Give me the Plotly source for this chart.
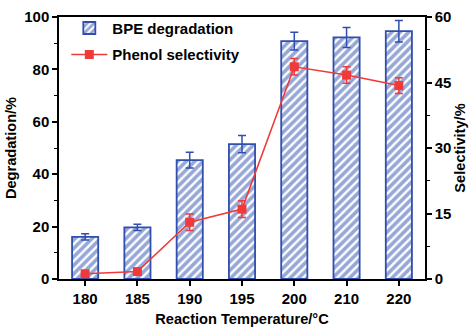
import plotly.graph_objects as go

# Reaction temperatures (categorical x axis)
temperatures = ["180", "185", "190", "195", "200", "210", "220"]

# BPE degradation (%) with error
degradation = [16.1, 19.7, 45.4, 51.5, 90.8, 92.2, 94.6]
degradation_err = [1.2, 1.2, 3.0, 3.3, 3.4, 3.8, 4.1]

# Phenol selectivity (%) with error
selectivity = [1.2, 1.7, 13.0, 16.0, 48.6, 46.7, 44.3]
selectivity_err = [0.6, 0.6, 1.9, 1.9, 1.9, 1.9, 1.8]

blue = "#2f4fae"
red = "#f03a3a"
font_family = "Liberation Sans, Arial, sans-serif"

fig = go.Figure()

fig.add_trace(go.Bar(
    x=temperatures,
    y=degradation,
    name="<b>BPE degradation</b>",
    legendgroup="bars",
    width=0.5,
    marker=dict(
        color="white",
        line=dict(color=blue, width=1.8),
        pattern=dict(shape="/", fgcolor=blue, bgcolor="white",
                     size=6, solidity=0.6, fillmode="overlay"),
    ),
    error_y=dict(type="data", array=degradation_err, color=blue,
                 thickness=1.5, width=4),
    yaxis="y",
))

fig.add_trace(go.Scatter(
    x=temperatures,
    y=selectivity,
    name="<b>Phenol selectivity</b>",
    legendgroup="line",
    mode="lines+markers",
    line=dict(color=red, width=1.6),
    marker=dict(symbol="square", size=9, color=red),
    error_y=dict(type="data", array=selectivity_err, color=red,
                 thickness=1.5, width=4),
    yaxis="y2",
))

axis_font = dict(family=font_family, size=15, color="black")
title_font = dict(family=font_family, size=14.6, color="black")

fig.update_layout(
    width=474,
    height=333,
    margin=dict(l=59, r=47, t=8, b=52),
    paper_bgcolor="white",
    plot_bgcolor="white",
    showlegend=True,
    legend=dict(
        x=0.02, y=1.02, xanchor="left", yanchor="top",
        bgcolor="rgba(0,0,0,0)",
        font=dict(family=font_family, size=15, color="black"),
        itemwidth=36,
        traceorder="grouped",
        tracegroupgap=4,
    ),
    xaxis=dict(
        range=[-0.5, 6.5],
        showline=True, linecolor="black", linewidth=1.5,
        mirror=True,
        ticks="outside", ticklen=5, tickwidth=1.5, tickcolor="black",
        tickfont=axis_font,
        tickprefix="<b>", ticksuffix="</b>",
        title=dict(text="<b>Reaction Temperature/°C</b>", font=title_font,
                   standoff=8),
        showgrid=False,
    ),
    yaxis=dict(
        range=[0, 100],
        dtick=20,
        showline=True, linecolor="black", linewidth=1.5,
        ticks="outside", ticklen=5, tickwidth=1.5, tickcolor="black",
        minor=dict(dtick=10, ticks="outside", ticklen=3, tickwidth=1.2,
                   tickcolor="black", showgrid=False),
        tickfont=axis_font,
        tickprefix="<b>", ticksuffix="</b>",
        title=dict(text="<b>Degradation/%</b>", font=title_font, standoff=4),
        showgrid=False,
        zeroline=False,
    ),
    yaxis2=dict(
        range=[0, 60],
        dtick=15,
        overlaying="y",
        side="right",
        showline=True, linecolor="black", linewidth=1.5,
        ticks="outside", ticklen=5, tickwidth=1.5, tickcolor="black",
        minor=dict(dtick=7.5, ticks="outside", ticklen=3, tickwidth=1.2,
                   tickcolor="black", showgrid=False),
        tickfont=axis_font,
        tickprefix="<b>", ticksuffix="</b>",
        title=dict(text="<b>Selectivity/%</b>", font=title_font, standoff=4),
        showgrid=False,
        zeroline=False,
    ),
)

fig.write_html("out.html")
